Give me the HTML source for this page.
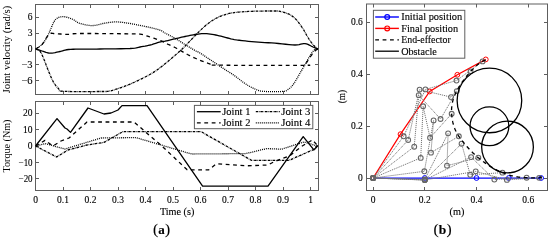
<!DOCTYPE html>
<html><head><meta charset="utf-8"><title>Figure</title>
<style>html,body{margin:0;padding:0;background:#fff;width:550px;height:241px;overflow:hidden}</style>
</head><body>
<svg width="550" height="241" viewBox="0 0 550 241" style="display:block;font-family:'Liberation Serif',serif">
<defs>
<clipPath id="cTop"><rect x="35.5" y="4.5" width="283.0" height="90.0"/></clipPath>
<clipPath id="cBot"><rect x="35.5" y="101.5" width="283.0" height="89.0"/></clipPath>
<clipPath id="cR"><rect x="366.5" y="4.0" width="181.0" height="186.5"/></clipPath>
</defs>
<style>text{stroke:#000;stroke-width:0.12px;fill:#000}</style>
<rect width="550" height="241" fill="#fff"/>
<rect x="35.5" y="4.5" width="283.0" height="90.0" fill="none" stroke="#5e5e5e" stroke-width="1.0"/>
<path d="M35.50,94.5v-3.5M35.50,4.5v3.5M63.50,94.5v-3.5M63.50,4.5v3.5M90.50,94.5v-3.5M90.50,4.5v3.5M118.50,94.5v-3.5M118.50,4.5v3.5M145.50,94.5v-3.5M145.50,4.5v3.5M173.50,94.5v-3.5M173.50,4.5v3.5M200.50,94.5v-3.5M200.50,4.5v3.5M228.50,94.5v-3.5M228.50,4.5v3.5M255.50,94.5v-3.5M255.50,4.5v3.5M283.50,94.5v-3.5M283.50,4.5v3.5M310.50,94.5v-3.5M310.50,4.5v3.5M35.5,17.50h3.5M318.5,17.50h-3.5M35.5,33.50h3.5M318.5,33.50h-3.5M35.5,49.50h3.5M318.5,49.50h-3.5M35.5,64.50h3.5M318.5,64.50h-3.5M35.5,80.50h3.5M318.5,80.50h-3.5" stroke="#5e5e5e" stroke-width="1.0" fill="none"/>
<text x="32.6" y="20.3" font-size="9.5" text-anchor="end">6</text>
<text x="32.6" y="36.3" font-size="9.5" text-anchor="end">3</text>
<text x="32.6" y="52.3" font-size="9.5" text-anchor="end">0</text>
<text x="32.6" y="68.3" font-size="9.5" text-anchor="end" textLength="11.2" lengthAdjust="spacingAndGlyphs">−3</text>
<text x="32.6" y="84.3" font-size="9.5" text-anchor="end" textLength="11.2" lengthAdjust="spacingAndGlyphs">−6</text>
<rect x="35.5" y="101.5" width="283.0" height="89.0" fill="none" stroke="#5e5e5e" stroke-width="1.0"/>
<path d="M35.50,190.5v-3.5M35.50,101.5v3.5M63.50,190.5v-3.5M63.50,101.5v3.5M90.50,190.5v-3.5M90.50,101.5v3.5M118.50,190.5v-3.5M118.50,101.5v3.5M145.50,190.5v-3.5M145.50,101.5v3.5M173.50,190.5v-3.5M173.50,101.5v3.5M200.50,190.5v-3.5M200.50,101.5v3.5M228.50,190.5v-3.5M228.50,101.5v3.5M255.50,190.5v-3.5M255.50,101.5v3.5M283.50,190.5v-3.5M283.50,101.5v3.5M310.50,190.5v-3.5M310.50,101.5v3.5M35.5,113.50h3.5M318.5,113.50h-3.5M35.5,129.50h3.5M318.5,129.50h-3.5M35.5,146.50h3.5M318.5,146.50h-3.5M35.5,162.50h3.5M318.5,162.50h-3.5M35.5,178.50h3.5M318.5,178.50h-3.5" stroke="#5e5e5e" stroke-width="1.0" fill="none"/>
<text x="32.6" y="116.4" font-size="9.5" text-anchor="end">20</text>
<text x="32.6" y="132.85" font-size="9.5" text-anchor="end">10</text>
<text x="32.6" y="149.3" font-size="9.5" text-anchor="end">0</text>
<text x="32.6" y="165.75" font-size="9.5" text-anchor="end" textLength="14.0" lengthAdjust="spacingAndGlyphs">−10</text>
<text x="32.6" y="182.2" font-size="9.5" text-anchor="end" textLength="14.0" lengthAdjust="spacingAndGlyphs">−20</text>
<text x="35.5" y="202.7" font-size="9.5" text-anchor="middle">0</text>
<text x="63.0" y="202.7" font-size="9.5" text-anchor="middle">0.1</text>
<text x="90.5" y="202.7" font-size="9.5" text-anchor="middle">0.2</text>
<text x="118.0" y="202.7" font-size="9.5" text-anchor="middle">0.3</text>
<text x="145.5" y="202.7" font-size="9.5" text-anchor="middle">0.4</text>
<text x="173.0" y="202.7" font-size="9.5" text-anchor="middle">0.5</text>
<text x="200.5" y="202.7" font-size="9.5" text-anchor="middle">0.6</text>
<text x="228.0" y="202.7" font-size="9.5" text-anchor="middle">0.7</text>
<text x="255.5" y="202.7" font-size="9.5" text-anchor="middle">0.8</text>
<text x="283.0" y="202.7" font-size="9.5" text-anchor="middle">0.9</text>
<text x="310.5" y="202.7" font-size="9.5" text-anchor="middle">1</text>
<text x="177.1" y="214.5" font-size="9.5" text-anchor="middle" textLength="34.4" lengthAdjust="spacingAndGlyphs">Time (s)</text>
<text transform="translate(10.4,49.5) rotate(-90)" font-size="9.4" style="stroke:none" text-anchor="middle" textLength="87.5" lengthAdjust="spacingAndGlyphs">Joint velocity (rad/s)</text>
<text transform="translate(10.4,146) rotate(-90)" font-size="9.4" style="stroke:none" text-anchor="middle" textLength="52.9" lengthAdjust="spacingAndGlyphs">Torque (Nm)</text>
<g clip-path="url(#cTop)">
<polyline points="35.50,49.00 36.25,48.53 37.30,47.93 38.53,47.19 39.85,46.33 41.14,45.33 42.30,44.20 43.34,42.93 44.34,41.51 45.31,39.96 46.27,38.30 47.23,36.54 48.20,34.70 49.19,32.63 50.21,30.29 51.22,27.85 52.20,25.49 53.14,23.38 54.00,21.70 54.76,20.49 55.44,19.62 56.07,19.01 56.68,18.56 57.31,18.18 58.00,17.80 58.74,17.43 59.49,17.16 60.27,16.96 61.06,16.82 61.87,16.74 62.70,16.70 63.54,16.70 64.40,16.76 65.27,16.88 66.16,17.04 67.07,17.25 68.00,17.50 68.96,17.81 69.95,18.17 70.96,18.58 71.97,19.03 72.99,19.51 74.00,20.00 74.92,20.54 75.76,21.14 76.59,21.78 77.52,22.40 78.62,22.99 80.00,23.50 81.71,23.98 83.69,24.47 85.84,24.93 88.09,25.29 90.34,25.53 92.50,25.60 94.60,25.43 96.72,25.06 98.84,24.56 100.94,24.01 103.00,23.49 105.00,23.10 106.91,22.80 108.76,22.51 110.56,22.27 112.35,22.07 114.16,21.95 116.00,21.90 117.88,21.95 119.76,22.08 121.66,22.28 123.57,22.53 125.52,22.81 127.50,23.10 129.55,23.42 131.69,23.79 133.84,24.19 135.98,24.61 138.05,25.02 140.00,25.40 141.80,25.75 143.49,26.09 145.11,26.41 146.71,26.75 148.32,27.11 150.00,27.50 151.82,27.94 153.75,28.42 155.71,28.92 157.58,29.43 159.28,29.92 160.70,30.40 161.72,30.82 162.40,31.19 162.89,31.55 163.38,31.94 164.03,32.41 165.00,33.00 166.34,33.72 167.91,34.53 169.64,35.43 171.46,36.37 173.27,37.33 175.00,38.30 176.67,39.28 178.33,40.31 180.00,41.36 181.67,42.41 183.33,43.47 185.00,44.50 186.72,45.55 188.52,46.64 190.31,47.73 192.04,48.77 193.62,49.70 195.00,50.50 196.04,51.05 196.77,51.39 197.36,51.62 197.98,51.88 198.80,52.30 200.00,53.00 201.63,54.02 203.55,55.28 205.68,56.69 207.91,58.18 210.15,59.67 212.30,61.10 214.40,62.49 216.54,63.91 218.68,65.34 220.80,66.75 222.85,68.11 224.80,69.40 226.64,70.59 228.39,71.70 230.08,72.76 231.72,73.81 233.36,74.88 235.00,76.00 236.65,77.20 238.29,78.46 239.92,79.74 241.53,81.00 243.12,82.20 244.70,83.30 246.25,84.32 247.78,85.28 249.29,86.18 250.79,87.02 252.29,87.80 253.80,88.50 255.19,89.14 256.43,89.71 257.66,90.22 259.05,90.66 260.75,91.02 262.90,91.30 265.78,91.50 269.33,91.62 273.19,91.66 276.99,91.64 280.38,91.55 283.00,91.40 284.75,91.18 285.91,90.89 286.65,90.54 287.17,90.13 287.66,89.68 288.30,89.20 289.05,88.70 289.75,88.17 290.42,87.61 291.07,86.98 291.72,86.28 292.40,85.50 293.10,84.61 293.80,83.63 294.50,82.57 295.20,81.46 295.90,80.33 296.60,79.20 297.29,78.05 297.97,76.87 298.65,75.66 299.33,74.44 300.01,73.22 300.70,72.00 301.40,70.79 302.10,69.57 302.80,68.36 303.50,67.14 304.20,65.92 304.90,64.70 305.59,63.47 306.27,62.23 306.95,60.98 307.63,59.75 308.31,58.55 309.00,57.40 309.71,56.26 310.44,55.11 311.18,53.99 311.90,52.94 312.58,52.00 313.20,51.20 313.76,50.55 314.27,50.02 314.74,49.60 315.18,49.27 315.60,49.01 316.00,48.80 316.40,48.69 316.80,48.68 317.18,48.75 317.51,48.85 317.79,48.95 318.00,49.00" fill="none" stroke="#000" stroke-width="1.3" stroke-linejoin="round" stroke-dasharray="1.0 1.0"/>
<polyline points="35.50,49.00 35.97,49.14 36.63,49.27 37.41,49.46 38.24,49.76 39.06,50.22 39.80,50.90 40.46,51.80 41.09,52.88 41.71,54.12 42.34,55.52 43.00,57.05 43.70,58.70 44.46,60.56 45.26,62.64 46.09,64.87 46.93,67.13 47.77,69.34 48.60,71.40 49.42,73.35 50.23,75.27 51.05,77.14 51.87,78.93 52.68,80.59 53.50,82.10 54.32,83.46 55.14,84.69 55.96,85.79 56.77,86.79 57.59,87.69 58.40,88.50 58.84,89.21 58.82,89.80 58.81,90.29 59.23,90.69 60.55,91.03 63.20,91.30 67.80,91.49 74.11,91.58 81.32,91.60 88.59,91.57 95.09,91.53 100.00,91.50 103.14,91.50 105.13,91.50 106.36,91.49 107.21,91.43 108.06,91.31 109.30,91.10 110.86,90.78 112.43,90.36 114.00,89.88 115.57,89.36 117.14,88.82 118.70,88.30 120.25,87.79 121.80,87.27 123.35,86.74 124.90,86.19 126.45,85.61 128.00,85.00 129.56,84.36 131.13,83.68 132.70,82.98 134.27,82.26 135.84,81.53 137.40,80.80 138.95,80.07 140.50,79.33 142.05,78.59 143.60,77.82 145.15,77.03 146.70,76.20 148.26,75.34 149.83,74.46 151.40,73.56 152.97,72.61 154.54,71.63 156.10,70.60 157.65,69.51 159.20,68.37 160.75,67.19 162.30,65.98 163.85,64.75 165.40,63.50 167.01,62.19 168.68,60.81 170.36,59.40 171.97,58.03 173.48,56.74 174.80,55.60 175.91,54.63 176.85,53.80 177.68,53.05 178.44,52.35 179.19,51.65 180.00,50.90 180.79,50.18 181.50,49.54 182.20,48.91 182.97,48.19 183.88,47.31 185.00,46.20 186.37,44.79 187.95,43.14 189.66,41.34 191.45,39.46 193.25,37.58 195.00,35.80 196.71,34.07 198.44,32.30 200.18,30.55 201.93,28.84 203.67,27.21 205.40,25.70 207.12,24.30 208.84,22.97 210.55,21.73 212.26,20.57 213.98,19.49 215.70,18.50 217.43,17.60 219.16,16.80 220.89,16.07 222.63,15.43 224.37,14.84 226.10,14.30 227.74,13.83 229.27,13.44 230.79,13.11 232.43,12.82 234.30,12.56 236.50,12.30 239.10,12.05 242.01,11.83 245.15,11.64 248.42,11.47 251.74,11.32 255.00,11.20 258.42,11.11 262.11,11.04 265.84,11.01 269.39,10.99 272.52,10.99 275.00,11.00 276.65,11.00 277.63,11.00 278.18,11.01 278.59,11.07 279.10,11.19 280.00,11.40 281.30,11.70 282.81,12.07 284.43,12.50 286.08,13.00 287.66,13.57 289.10,14.20 290.38,14.88 291.57,15.61 292.69,16.41 293.79,17.29 294.88,18.28 296.00,19.40 297.16,20.70 298.36,22.19 299.54,23.77 300.70,25.40 301.80,27.00 302.80,28.50 303.69,29.91 304.50,31.29 305.24,32.64 305.95,33.96 306.66,35.24 307.40,36.50 308.17,37.74 308.94,38.97 309.71,40.17 310.47,41.32 311.24,42.40 312.00,43.40 312.79,44.33 313.62,45.20 314.44,46.01 315.23,46.74 315.92,47.37 316.50,47.90 316.94,48.29 317.28,48.56 317.53,48.73 317.72,48.84 317.87,48.92 318.00,49.00" fill="none" stroke="#000" stroke-width="1.3" stroke-linejoin="round" stroke-dasharray="2.5 0.75 0.6 0.75"/>
<polyline points="35.50,49.00 36.24,48.54 37.27,47.95 38.48,47.23 39.79,46.36 41.09,45.36 42.30,44.20 43.43,42.73 44.57,40.90 45.70,38.94 46.82,37.03 47.92,35.38 49.00,34.20 49.97,33.54 50.83,33.25 51.67,33.23 52.58,33.35 53.66,33.51 55.00,33.60 56.64,33.67 58.52,33.83 60.56,34.02 62.70,34.21 64.87,34.35 67.00,34.40 68.70,34.33 69.96,34.18 71.25,33.98 73.04,33.77 75.80,33.60 80.00,33.50 86.39,33.48 94.74,33.51 104.06,33.57 113.37,33.66 121.68,33.74 128.00,33.80 132.11,33.82 134.74,33.80 136.38,33.79 137.48,33.81 138.53,33.90 140.00,34.10 141.77,34.42 143.46,34.84 145.08,35.34 146.69,35.88 148.32,36.44 150.00,37.00 151.82,37.59 153.75,38.23 155.71,38.89 157.58,39.54 159.28,40.16 160.70,40.70 161.72,41.14 162.40,41.49 162.89,41.80 163.38,42.12 164.03,42.51 165.00,43.00 166.31,43.59 167.82,44.24 169.49,44.96 171.27,45.73 173.12,46.58 175.00,47.50 176.94,48.54 178.98,49.69 181.09,50.92 183.24,52.16 185.39,53.37 187.50,54.50 189.59,55.55 191.69,56.58 193.78,57.58 195.87,58.53 197.95,59.44 200.00,60.30 202.08,61.13 204.19,61.95 206.28,62.72 208.31,63.42 210.24,64.02 212.00,64.50 212.70,64.83 212.19,65.01 211.56,65.11 211.93,65.14 214.37,65.16 220.00,65.20 230.42,65.27 245.09,65.32 261.84,65.36 278.52,65.38 292.96,65.36 303.00,65.30 308.05,65.25 309.72,65.24 309.16,65.19 307.50,65.05 305.90,64.74 305.50,64.20 306.13,63.36 306.85,62.26 307.62,60.99 308.43,59.66 309.23,58.36 310.00,57.20 310.76,56.14 311.54,55.09 312.31,54.08 313.07,53.13 313.81,52.26 314.50,51.50 315.18,50.85 315.87,50.28 316.53,49.79 317.13,49.39 317.63,49.06 318.00,48.80" fill="none" stroke="#000" stroke-width="1.3" stroke-linejoin="round" stroke-dasharray="3.8 3.6"/>
<polyline points="35.50,49.00 36.19,49.22 37.11,49.51 38.23,49.86 39.45,50.24 40.73,50.63 42.00,51.00 43.28,51.40 44.61,51.86 46.01,52.33 47.44,52.75 48.91,53.06 50.40,53.20 51.94,53.15 53.55,52.93 55.19,52.61 56.84,52.23 58.45,51.85 60.00,51.50 61.40,51.17 62.66,50.80 63.88,50.42 65.19,50.06 66.69,49.74 68.50,49.50 70.67,49.34 73.13,49.24 75.78,49.18 78.54,49.15 81.31,49.13 84.00,49.10 86.48,49.07 88.78,49.06 91.09,49.06 93.61,49.05 96.52,49.04 100.00,49.00 104.42,48.95 109.70,48.90 115.38,48.84 120.96,48.76 126.00,48.65 130.00,48.50 132.82,48.31 134.81,48.09 136.25,47.84 137.41,47.57 138.56,47.29 140.00,47.00 141.66,46.71 143.31,46.41 144.96,46.11 146.61,45.77 148.29,45.41 150.00,45.00 151.82,44.51 153.75,43.93 155.71,43.31 157.58,42.72 159.28,42.20 160.70,41.80 161.72,41.57 162.40,41.47 162.89,41.45 163.38,41.44 164.03,41.37 165.00,41.20 166.34,40.90 167.91,40.53 169.64,40.11 171.46,39.66 173.27,39.22 175.00,38.80 176.67,38.41 178.33,38.01 180.00,37.62 181.67,37.24 183.33,36.86 185.00,36.50 186.67,36.14 188.33,35.77 190.00,35.41 191.67,35.07 193.33,34.77 195.00,34.50 196.66,34.26 198.31,34.03 199.96,33.84 201.61,33.69 203.29,33.60 205.00,33.60 206.75,33.69 208.53,33.85 210.33,34.08 212.13,34.36 213.93,34.67 215.70,35.00 217.45,35.37 219.19,35.79 220.92,36.24 222.64,36.71 224.37,37.17 226.10,37.60 227.74,38.00 229.27,38.40 230.79,38.79 232.43,39.17 234.30,39.54 236.50,39.90 239.10,40.26 242.01,40.61 245.15,40.96 248.42,41.30 251.74,41.61 255.00,41.90 258.25,42.15 261.56,42.37 264.91,42.56 268.28,42.76 271.65,42.96 275.00,43.20 278.45,43.51 282.04,43.88 285.62,44.27 289.07,44.62 292.25,44.88 295.00,45.00 297.27,44.90 299.15,44.59 300.75,44.20 302.19,43.83 303.56,43.59 305.00,43.60 306.48,43.91 307.93,44.43 309.31,45.09 310.63,45.79 311.86,46.46 313.00,47.00 314.06,47.44 315.07,47.84 316.00,48.21 316.81,48.53 317.49,48.80 318.00,49.00" fill="none" stroke="#000" stroke-width="1.3" stroke-linejoin="round"/>
</g>
<g clip-path="url(#cBot)">
<polyline points="35.50,146.00 45.00,143.60 65.00,149.00 101.00,138.00 136.00,137.60 191.50,154.00 245.80,153.60 266.70,148.60 281.60,149.20 295.70,144.60 304.00,142.00 318.00,146.20" fill="none" stroke="#000" stroke-width="1.3" stroke-linejoin="round" stroke-dasharray="1.0 1.0"/>
<polyline points="35.50,146.00 56.60,157.00 68.00,150.00 87.00,145.00 104.00,142.40 123.00,131.60 201.00,131.60 251.40,160.30 289.00,160.30 314.50,149.20 318.00,145.50" fill="none" stroke="#000" stroke-width="1.3" stroke-linejoin="round" stroke-dasharray="2.5 0.75 0.6 0.75"/>
<polyline points="35.50,146.00 45.00,140.40 53.00,146.00 61.00,141.00 69.00,138.00 87.00,122.00 134.00,122.00 162.40,146.50 187.20,169.80 208.80,169.80 216.40,163.80 247.00,165.80 268.00,165.00 273.50,162.00 290.00,155.60 301.60,146.40 312.40,139.90 316.50,144.40 318.00,146.00" fill="none" stroke="#000" stroke-width="1.3" stroke-linejoin="round" stroke-dasharray="3.8 3.6"/>
<polyline points="35.50,146.00 57.00,118.60 65.00,128.00 67.00,129.00 70.50,132.40 88.00,108.00 104.00,114.00 111.00,113.00 118.00,110.00 122.00,105.60 147.00,105.60 202.60,186.10 268.00,186.10 303.20,136.60 313.90,149.90 318.00,145.40" fill="none" stroke="#000" stroke-width="1.3" stroke-linejoin="round"/>
</g>
<rect x="194.4" y="105.4" width="118.4" height="23.3" fill="#fff" stroke="#5e5e5e" stroke-width="1.0"/>
<polyline points="196.90,111.70 220.70,111.70" fill="none" stroke="#000" stroke-width="1.3"/>
<text x="222.2" y="115.0" font-size="9.5" textLength="28.2" lengthAdjust="spacingAndGlyphs">Joint 1</text>
<polyline points="196.90,122.80 220.70,122.80" fill="none" stroke="#000" stroke-width="1.3" stroke-dasharray="3.8 3.6"/>
<text x="222.2" y="126.1" font-size="9.5" textLength="28.2" lengthAdjust="spacingAndGlyphs">Joint 2</text>
<polyline points="255.80,111.70 279.80,111.70" fill="none" stroke="#000" stroke-width="1.3" stroke-dasharray="2.5 0.75 0.6 0.75"/>
<text x="281.3" y="115.0" font-size="9.5" textLength="29" lengthAdjust="spacingAndGlyphs">Joint 3</text>
<polyline points="255.80,122.80 279.80,122.80" fill="none" stroke="#000" stroke-width="1.3" stroke-dasharray="1.0 1.0"/>
<text x="281.3" y="126.1" font-size="9.5" textLength="29" lengthAdjust="spacingAndGlyphs">Joint 4</text>
<rect x="366.5" y="4.0" width="181.0" height="186.5" fill="none" stroke="#5e5e5e" stroke-width="1.0"/>
<path d="M373.50,190.5v-3.5M373.50,4.0v3.5M366.5,178.50h3.5M547.5,178.50h-3.5M424.50,190.5v-3.5M424.50,4.0v3.5M366.5,126.50h3.5M547.5,126.50h-3.5M476.50,190.5v-3.5M476.50,4.0v3.5M366.5,74.50h3.5M547.5,74.50h-3.5M528.50,190.5v-3.5M528.50,4.0v3.5M366.5,22.50h3.5M547.5,22.50h-3.5" stroke="#5e5e5e" stroke-width="1.0" fill="none"/>
<text x="373.1" y="202.7" font-size="9.5" text-anchor="middle">0</text>
<text x="362.8" y="180.5" font-size="9.5" text-anchor="end">0</text>
<text x="424.8" y="202.7" font-size="9.5" text-anchor="middle">0.2</text>
<text x="362.8" y="128.8" font-size="9.5" text-anchor="end">0.2</text>
<text x="476.5" y="202.7" font-size="9.5" text-anchor="middle">0.4</text>
<text x="362.8" y="77.1" font-size="9.5" text-anchor="end">0.4</text>
<text x="528.2" y="202.7" font-size="9.5" text-anchor="middle">0.6</text>
<text x="362.8" y="25.4" font-size="9.5" text-anchor="end">0.6</text>
<text x="457" y="214.5" font-size="9.5" text-anchor="middle" textLength="14.8" lengthAdjust="spacingAndGlyphs">(m)</text>
<text transform="translate(345,96.6) rotate(-90)" font-size="10" text-anchor="middle" textLength="13.4" lengthAdjust="spacingAndGlyphs">(m)</text>
<g clip-path="url(#cR)">
<polyline points="373.10,178.00 424.80,178.00 476.50,178.00 508.81,178.00 541.12,178.00" fill="none" stroke="#0000ff" stroke-width="1.25"/>
<circle cx="424.80" cy="178.00" r="2.4" fill="none" stroke="#0000ff" stroke-width="1.0"/>
<circle cx="476.50" cy="178.00" r="2.4" fill="none" stroke="#0000ff" stroke-width="1.0"/>
<circle cx="508.81" cy="178.00" r="2.4" fill="none" stroke="#0000ff" stroke-width="1.0"/>
<circle cx="541.12" cy="178.00" r="2.4" fill="none" stroke="#0000ff" stroke-width="1.0"/>
<polyline points="373.10,178.00 400.52,134.17 429.70,91.49 457.35,74.76 485.78,59.42" fill="none" stroke="#ff0000" stroke-width="1.25"/>
<circle cx="400.52" cy="134.17" r="2.4" fill="none" stroke="#ff0000" stroke-width="1.0"/>
<circle cx="429.70" cy="91.49" r="2.4" fill="none" stroke="#ff0000" stroke-width="1.0"/>
<circle cx="457.35" cy="74.76" r="2.4" fill="none" stroke="#ff0000" stroke-width="1.0"/>
<circle cx="485.78" cy="59.42" r="2.4" fill="none" stroke="#ff0000" stroke-width="1.0"/>
<polyline points="373.10,178.00 424.76,180.00 475.74,171.37 506.91,179.88 539.15,177.83" fill="none" stroke="#747474" stroke-width="1.0" stroke-dasharray="1.1 0.9" stroke-dashoffset="1.5"/>
<polyline points="373.10,178.00 424.76,180.00 471.10,157.08 494.35,179.53 526.61,177.71" fill="none" stroke="#747474" stroke-width="1.0" stroke-dasharray="1.1 0.9" stroke-dashoffset="1.5"/>
<polyline points="373.10,178.00 424.76,180.00 461.57,143.70 470.24,174.82 502.47,172.63" fill="none" stroke="#747474" stroke-width="1.0" stroke-dasharray="1.1 0.9" stroke-dashoffset="1.5"/>
<polyline points="373.10,178.00 424.78,179.50 448.10,133.36 446.99,165.65 478.31,157.72" fill="none" stroke="#747474" stroke-width="1.0" stroke-dasharray="1.1 0.9" stroke-dashoffset="1.5"/>
<polyline points="373.10,178.00 424.36,171.30 433.60,120.44 430.96,152.64 458.84,136.30" fill="none" stroke="#747474" stroke-width="1.0" stroke-dasharray="1.1 0.9" stroke-dashoffset="1.5"/>
<polyline points="373.10,178.00 420.73,157.89 423.13,106.24 430.05,137.81 451.66,113.78" fill="none" stroke="#747474" stroke-width="1.0" stroke-dasharray="1.1 0.9" stroke-dashoffset="1.5"/>
<polyline points="373.10,178.00 414.23,146.68 418.73,95.17 440.54,119.01 456.78,91.08" fill="none" stroke="#747474" stroke-width="1.0" stroke-dasharray="1.1 0.9" stroke-dashoffset="1.5"/>
<polyline points="373.10,178.00 408.18,140.02 419.62,89.60 451.04,97.11 470.57,71.36" fill="none" stroke="#747474" stroke-width="1.0" stroke-dasharray="1.1 0.9" stroke-dashoffset="1.5"/>
<polyline points="373.10,178.00 403.64,136.28 425.43,89.40 456.50,80.54 482.55,61.42" fill="none" stroke="#747474" stroke-width="1.0" stroke-dasharray="1.1 0.9" stroke-dashoffset="1.5"/>
<circle cx="373.10" cy="178.00" r="2.4" fill="none" stroke="#666" stroke-width="1.1"/>
<circle cx="424.76" cy="180.00" r="2.4" fill="none" stroke="#666" stroke-width="1.1"/>
<circle cx="475.74" cy="171.37" r="2.4" fill="none" stroke="#666" stroke-width="1.1"/>
<circle cx="506.91" cy="179.88" r="2.4" fill="none" stroke="#666" stroke-width="1.1"/>
<circle cx="539.15" cy="177.83" r="2.4" fill="none" stroke="#666" stroke-width="1.1"/>
<circle cx="373.10" cy="178.00" r="2.4" fill="none" stroke="#666" stroke-width="1.1"/>
<circle cx="424.76" cy="180.00" r="2.4" fill="none" stroke="#666" stroke-width="1.1"/>
<circle cx="471.10" cy="157.08" r="2.4" fill="none" stroke="#666" stroke-width="1.1"/>
<circle cx="494.35" cy="179.53" r="2.4" fill="none" stroke="#666" stroke-width="1.1"/>
<circle cx="526.61" cy="177.71" r="2.4" fill="none" stroke="#666" stroke-width="1.1"/>
<circle cx="373.10" cy="178.00" r="2.4" fill="none" stroke="#666" stroke-width="1.1"/>
<circle cx="424.76" cy="180.00" r="2.4" fill="none" stroke="#666" stroke-width="1.1"/>
<circle cx="461.57" cy="143.70" r="2.4" fill="none" stroke="#666" stroke-width="1.1"/>
<circle cx="470.24" cy="174.82" r="2.4" fill="none" stroke="#666" stroke-width="1.1"/>
<circle cx="502.47" cy="172.63" r="2.4" fill="none" stroke="#666" stroke-width="1.1"/>
<circle cx="373.10" cy="178.00" r="2.4" fill="none" stroke="#666" stroke-width="1.1"/>
<circle cx="424.78" cy="179.50" r="2.4" fill="none" stroke="#666" stroke-width="1.1"/>
<circle cx="448.10" cy="133.36" r="2.4" fill="none" stroke="#666" stroke-width="1.1"/>
<circle cx="446.99" cy="165.65" r="2.4" fill="none" stroke="#666" stroke-width="1.1"/>
<circle cx="478.31" cy="157.72" r="2.4" fill="none" stroke="#666" stroke-width="1.1"/>
<circle cx="373.10" cy="178.00" r="2.4" fill="none" stroke="#666" stroke-width="1.1"/>
<circle cx="424.36" cy="171.30" r="2.4" fill="none" stroke="#666" stroke-width="1.1"/>
<circle cx="433.60" cy="120.44" r="2.4" fill="none" stroke="#666" stroke-width="1.1"/>
<circle cx="430.96" cy="152.64" r="2.4" fill="none" stroke="#666" stroke-width="1.1"/>
<circle cx="458.84" cy="136.30" r="2.4" fill="none" stroke="#666" stroke-width="1.1"/>
<circle cx="373.10" cy="178.00" r="2.4" fill="none" stroke="#666" stroke-width="1.1"/>
<circle cx="420.73" cy="157.89" r="2.4" fill="none" stroke="#666" stroke-width="1.1"/>
<circle cx="423.13" cy="106.24" r="2.4" fill="none" stroke="#666" stroke-width="1.1"/>
<circle cx="430.05" cy="137.81" r="2.4" fill="none" stroke="#666" stroke-width="1.1"/>
<circle cx="451.66" cy="113.78" r="2.4" fill="none" stroke="#666" stroke-width="1.1"/>
<circle cx="373.10" cy="178.00" r="2.4" fill="none" stroke="#666" stroke-width="1.1"/>
<circle cx="414.23" cy="146.68" r="2.4" fill="none" stroke="#666" stroke-width="1.1"/>
<circle cx="418.73" cy="95.17" r="2.4" fill="none" stroke="#666" stroke-width="1.1"/>
<circle cx="440.54" cy="119.01" r="2.4" fill="none" stroke="#666" stroke-width="1.1"/>
<circle cx="456.78" cy="91.08" r="2.4" fill="none" stroke="#666" stroke-width="1.1"/>
<circle cx="373.10" cy="178.00" r="2.4" fill="none" stroke="#666" stroke-width="1.1"/>
<circle cx="408.18" cy="140.02" r="2.4" fill="none" stroke="#666" stroke-width="1.1"/>
<circle cx="419.62" cy="89.60" r="2.4" fill="none" stroke="#666" stroke-width="1.1"/>
<circle cx="451.04" cy="97.11" r="2.4" fill="none" stroke="#666" stroke-width="1.1"/>
<circle cx="470.57" cy="71.36" r="2.4" fill="none" stroke="#666" stroke-width="1.1"/>
<circle cx="373.10" cy="178.00" r="2.4" fill="none" stroke="#666" stroke-width="1.1"/>
<circle cx="403.64" cy="136.28" r="2.4" fill="none" stroke="#666" stroke-width="1.1"/>
<circle cx="425.43" cy="89.40" r="2.4" fill="none" stroke="#666" stroke-width="1.1"/>
<circle cx="456.50" cy="80.54" r="2.4" fill="none" stroke="#666" stroke-width="1.1"/>
<circle cx="482.55" cy="61.42" r="2.4" fill="none" stroke="#666" stroke-width="1.1"/>
<polyline points="541.12,178.00 541.12,177.94 541.12,177.87 541.12,177.78 541.12,177.68 541.12,177.57 541.12,177.49 541.12,177.46 541.12,177.45 541.12,177.41 541.11,177.36 541.11,177.30 541.09,177.23 541.08,177.15 541.06,177.07 541.03,176.97 540.99,176.93 540.95,176.93 540.89,176.94 540.82,176.96 540.74,176.99 540.65,177.02 540.54,177.07 540.42,177.14 540.28,177.22 540.13,177.32 539.96,177.43 539.78,177.54 539.58,177.64 539.36,177.74 539.13,177.84 538.89,177.92 538.64,177.99 538.37,178.03 538.09,178.06 537.80,178.06 537.49,178.05 537.17,178.04 536.84,178.02 536.50,178.01 536.14,177.99 535.77,177.97 535.39,177.96 534.99,177.94 534.59,177.93 534.17,177.91 533.74,177.90 533.30,177.89 532.85,177.89 532.38,177.88 531.91,177.86 531.42,177.85 530.92,177.84 530.40,177.82 529.88,177.80 529.34,177.79 528.80,177.77 528.24,177.76 527.67,177.74 527.08,177.73 526.48,177.71 525.82,177.70 525.14,177.68 524.46,177.65 523.75,177.61 523.04,177.56 522.31,177.51 521.58,177.44 520.83,177.36 520.06,177.27 519.29,177.18 518.51,177.07 517.71,176.94 516.91,176.81 516.09,176.66 515.27,176.50 514.43,176.34 513.59,176.16 512.74,175.97 511.88,175.77 511.02,175.55 510.15,175.31 509.28,175.06 508.40,174.79 507.52,174.51 506.64,174.21 505.76,173.89 504.87,173.56 503.99,173.23 503.10,172.88 502.22,172.52 501.39,172.17 500.55,171.80 499.72,171.42 498.89,171.04 498.05,170.65 497.22,170.24 496.39,169.83 495.56,169.42 494.74,168.99 493.91,168.56 493.09,168.12 492.27,167.66 491.45,167.18 490.64,166.70 489.83,166.19 489.02,165.68 488.21,165.15 487.40,164.61 486.60,164.05 485.80,163.48 485.00,162.90 484.20,162.32 483.41,161.73 482.63,161.13 481.84,160.53 481.07,159.93 480.30,159.32 479.53,158.71 478.77,158.09 478.00,157.46 477.24,156.80 476.47,156.14 475.72,155.46 474.97,154.78 474.22,154.09 473.48,153.40 472.75,152.69 472.02,151.98 471.30,151.25 470.58,150.52 469.87,149.78 469.17,149.02 468.47,148.26 467.79,147.51 467.12,146.77 466.47,146.04 465.83,145.32 465.20,144.60 464.59,143.88 463.99,143.17 463.40,142.45 462.82,141.73 462.25,141.01 461.69,140.29 461.15,139.57 460.61,138.84 460.09,138.12 459.58,137.39 459.08,136.66 458.61,135.95 458.17,135.25 457.75,134.55 457.34,133.85 456.95,133.15 456.57,132.45 456.21,131.74 455.86,131.04 455.53,130.33 455.21,129.62 454.91,128.91 454.62,128.19 454.35,127.46 454.09,126.73 453.85,126.00 453.62,125.25 453.40,124.50 453.19,123.74 452.99,122.98 452.81,122.20 452.64,121.42 452.49,120.63 452.34,119.84 452.21,119.04 452.10,118.24 451.99,117.43 451.90,116.61 451.82,115.79 451.74,114.96 451.68,114.12 451.63,113.29 451.58,112.47 451.55,111.66 451.53,110.85 451.54,110.05 451.57,109.26 451.61,108.46 451.68,107.68 451.76,106.89 451.85,106.10 451.95,105.31 452.06,104.51 452.19,103.72 452.34,102.94 452.50,102.17 452.68,101.41 452.87,100.65 453.08,99.90 453.31,99.15 453.54,98.40 453.80,97.67 454.06,96.93 454.34,96.20 454.64,95.48 454.94,94.76 455.26,94.05 455.59,93.35 455.94,92.65 456.29,91.96 456.67,91.28 457.04,90.55 457.43,89.80 457.83,89.06 458.24,88.33 458.66,87.60 459.09,86.88 459.52,86.16 459.96,85.44 460.41,84.74 460.86,84.04 461.32,83.34 461.79,82.65 462.26,81.97 462.74,81.29 463.22,80.62 463.70,79.96 464.18,79.30 464.67,78.66 465.16,78.01 465.65,77.38 466.14,76.76 466.64,76.14 467.14,75.53 467.63,74.93 468.12,74.34 468.60,73.75 469.08,73.17 469.55,72.60 470.02,72.03 470.48,71.48 470.98,70.98 471.48,70.50 471.98,70.03 472.47,69.57 472.95,69.12 473.42,68.67 473.88,68.23 474.33,67.80 474.78,67.37 475.21,66.96 475.64,66.55 476.06,66.15 476.46,65.76 476.86,65.37 477.25,65.00 477.64,64.64 478.02,64.29 478.39,63.96 478.76,63.65 479.12,63.34 479.48,63.06 479.83,62.80 480.19,62.57 480.54,62.35 480.89,62.16 481.22,61.98 481.56,61.81 481.88,61.67 482.21,61.54 482.52,61.43 482.80,61.25 483.08,61.09 483.35,60.95 483.61,60.83 483.87,60.73 484.12,60.65 484.35,60.56 484.57,60.49 484.77,60.43 484.96,60.39 485.14,60.36 485.32,60.35 485.48,60.34 485.64,60.35 485.78,60.37 485.91,60.39 486.03,60.42 486.13,60.45 486.21,60.47 486.26,60.45 486.28,60.41 486.27,60.35 486.25,60.27 486.22,60.18 486.16,60.07 486.09,59.94 486.00,59.79 485.92,59.65 485.85,59.53 485.78,59.42" fill="none" stroke="#000" stroke-width="1.3" stroke-dasharray="3.8 3.6"/>
<circle cx="489.43" cy="100.45" r="32.31" fill="none" stroke="#000" stroke-width="1.3"/>
<circle cx="489.43" cy="126.30" r="19.39" fill="none" stroke="#000" stroke-width="1.3"/>
<circle cx="507.52" cy="146.98" r="25.85" fill="none" stroke="#000" stroke-width="1.3"/>
</g>
<rect x="373.4" y="10.3" width="91.4" height="47.9" fill="#fff" stroke="#5e5e5e" stroke-width="1.0"/>
<polyline points="375.20,17.00 398.90,17.00" fill="none" stroke="#0000ff" stroke-width="1.4"/>
<circle cx="387.2" cy="17.0" r="2.4" fill="none" stroke="#0000ff" stroke-width="1.2"/>
<text x="401.2" y="20.4" font-size="9.5" textLength="61" lengthAdjust="spacingAndGlyphs">Initial position</text>
<polyline points="375.20,28.40 398.90,28.40" fill="none" stroke="#ff0000" stroke-width="1.4"/>
<circle cx="387.2" cy="28.4" r="2.4" fill="none" stroke="#ff0000" stroke-width="1.2"/>
<text x="401.2" y="31.799999999999997" font-size="9.5" textLength="57" lengthAdjust="spacingAndGlyphs">Final position</text>
<polyline points="375.20,39.80 398.90,39.80" fill="none" stroke="#000" stroke-width="1.3" stroke-dasharray="3.8 3.6"/>
<text x="401.2" y="43.199999999999996" font-size="9.5" textLength="49.6" lengthAdjust="spacingAndGlyphs">End-effector</text>
<polyline points="375.20,51.20 398.90,51.20" fill="none" stroke="#000" stroke-width="1.3"/>
<text x="401.2" y="54.6" font-size="9.5" textLength="35.6" lengthAdjust="spacingAndGlyphs">Obstacle</text>
<text x="153.0" y="234.2"><tspan font-size="15.5">(</tspan><tspan font-size="13" font-weight="bold" dx="0.2" dy="-0.4">a</tspan><tspan font-size="15.5" dx="0.2" dy="0.4">)</tspan></text>
<text x="433.4" y="234.2"><tspan font-size="15.5">(</tspan><tspan font-size="13.5" font-weight="bold" dx="0.2" dy="-0.4">b</tspan><tspan font-size="15.5" dx="0.2" dy="0.4">)</tspan></text>
</svg>
</body></html>
